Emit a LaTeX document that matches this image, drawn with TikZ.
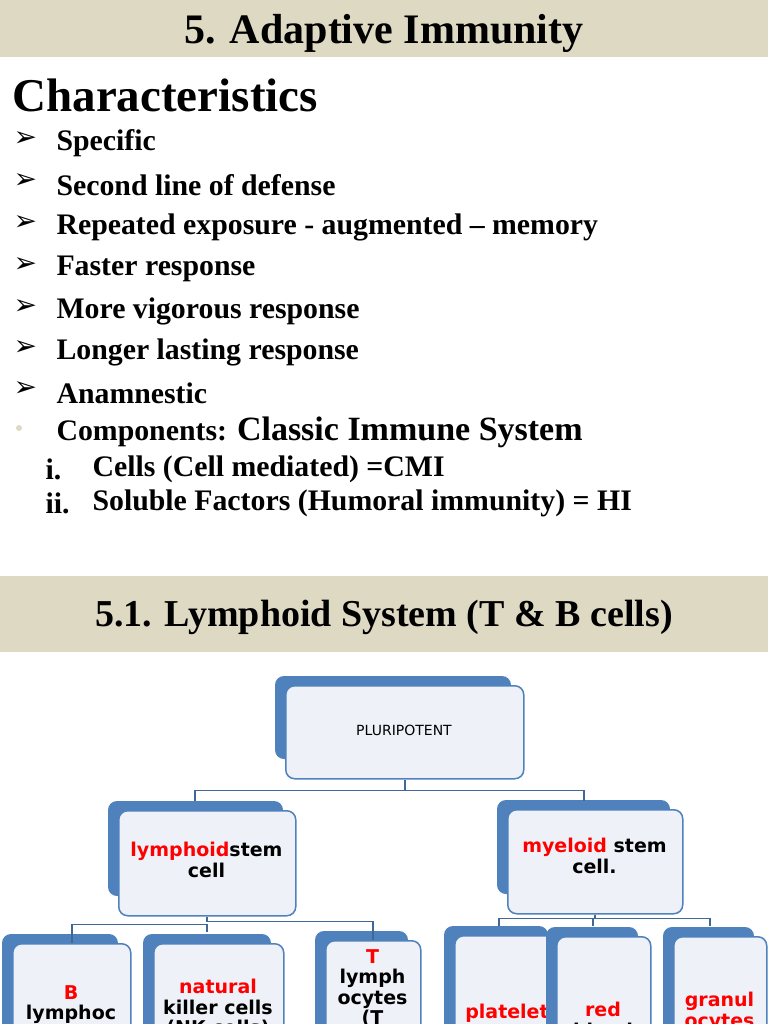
\documentclass[tikz,border=0pt]{standalone}
\usepackage{fontspec}
\setmainfont{Liberation Serif}
\newfontfamily\djsans{DejaVu Sans}
\usetikzlibrary{positioning}
\definecolor{band}{HTML}{DDD9C3}
\definecolor{boxblue}{HTML}{4F81BD}
\definecolor{boxfill}{HTML}{EEF2F8}
\tikzset{
  head/.style={font=\fontsize{42}{45}\selectfont\bfseries},
  item/.style={anchor=west,font=\fontsize{29.8}{31}\selectfont\bfseries},
  tip/.style={anchor=west,font=\djsans\fontsize{28}{30}\selectfont},
  back/.style={fill=boxblue,rounded corners=9pt},
  card/.style={draw=boxblue,line width=1.5pt,fill=boxfill,rounded corners=9pt},
  lbl/.style={align=center,anchor=north,inner sep=0pt,
    font=\djsans\bfseries\fontsize{19}{20.5}\selectfont},
  link/.style={draw=boxblue!80!black,line width=1.6pt}
}
% name, x, y, width, height, text top, text
\newcommand{\cardbox}[7]{%
  \fill[back] (#2-10,#3-9) rectangle ++(#4-2,#5-10);
  \node[card,minimum width=#4pt,minimum height=#5pt,anchor=north west] (#1) at (#2,#3) {};
  \node[lbl] (#1-t) at (#2+#4/2,#6) {#7};}
\begin{document}
\begin{tikzpicture}[x=1pt,y=-1pt]
\useasboundingbox (0,0) rectangle (768,1024);
\clip (0,0) rectangle (768,1024);
% title bands
\fill[band] (0,0) rectangle (768,57);
\node[head] (title) at (384,33) {5. Adaptive Immunity};
\node[anchor=west,font=\fontsize{47}{50}\selectfont\bfseries] (chars) at (9,95) {Characteristics};
\foreach \y/\t in {143/Specific,185/Second line of defense,
  227/Repeated exposure - augmented -- memory,269/Faster response,
  311/More vigorous response,352/Longer lasting response,393/Anamnestic}{
  \node[tip] at (10,\y-4) {\char"27A2};
  \node[item] at (53,\y) {\t};
}
\fill[band] (19,428) circle (3);
\node[item] (comp) at (53,432) {Components: {\fontsize{34}{36}\selectfont Classic Immune System}};
\node[item] at (42,469) {i.};
\node[item] (cmi) at (89,469) {Cells (Cell mediated) =CMI};
\node[item] at (42,503) {ii.};
\node[item] (hi) at (89,503) {Soluble Factors (Humoral immunity) = HI};
\fill[band] (0,576) rectangle (768,652);
\node[head,font=\fontsize{38}{41}\selectfont\bfseries] (title2) at (384,617) {5.1. Lymphoid System (T \& B cells)};
% tree
\cardbox{pluri}{285}{685}{238}{93}{725}{\fontsize{14}{16}\selectfont\mdseries PLURIPOTENT}
\cardbox{lym}{118}{810}{177}{105}{842}{{\color{red}lymphoid}stem\\cell}
\cardbox{mye}{507}{809}{175}{104}{838}{{\color{red}myeloid} stem\\cell.}
\draw[link] (pluri.south) -- ++(0,11) -| (195,801);
\draw[link] (pluri.south) ++(0,11) -| (584,801);
\cardbox{bly}{12}{943}{118}{120}{985}{{\color{red}B}\\lymphoc\\ytes}
\cardbox{nk}{153}{943}{130}{120}{979}{{\color{red}natural}\\killer cells\\(NK cells)}
\cardbox{tly}{325}{940}{95}{120}{949}{{\color{red}T}\\lymph\\ocytes\\(T}
\cardbox{plt}{454}{935}{106}{120}{1004}{{\color{red}platelet}}
\cardbox{rbc}{556}{936}{94}{120}{1002}{{\color{red}red}\\blood}
\cardbox{gra}{673}{936}{93}{120}{992}{{\color{red}granul}\\{\color{red}ocytes}}
\draw[link] (lym.south) -- ++(0,5) -| (tly.north);
\draw[link] (lym.south) ++(0,8) -| (bly.north);
\draw[link] (lym.south) ++(0,8) -| (207,932);
\draw[link] (mye.south) -- ++(0,4) -| (499,926);
\draw[link] (mye.south) ++(0,4) -| (593,926);
\draw[link] (mye.south) ++(0,4) -| (710,926);
\end{tikzpicture}
\end{document}
